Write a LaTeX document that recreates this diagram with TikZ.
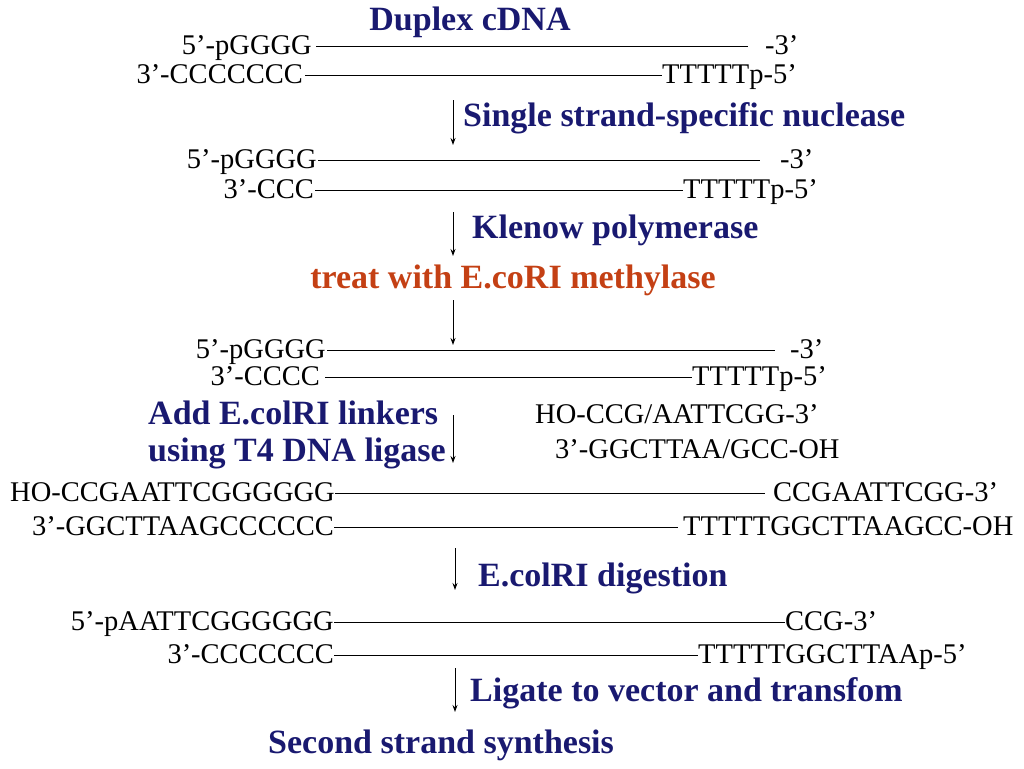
\documentclass[tikz,border=0pt]{standalone}
\usepackage{fontspec}
\usetikzlibrary{arrows.meta}
\setmainfont{Liberation Serif}
\newfontfamily\seqfont{Liberation Serif}
\definecolor{dblue}{RGB}{25,25,112}
\definecolor{ored}{RGB}{196,64,20}
\begin{document}
\begin{tikzpicture}[x=1pt,y=-1pt,
  seq/.style={font=\seqfont\fontsize{28.5}{32}\selectfont,inner sep=0pt},
  lbl/.style={font=\seqfont\fontsize{34}{38}\selectfont\bfseries,text=dblue,inner sep=0pt},
  L/.style={seq,anchor=base east,yshift=-8pt},
  R/.style={seq,anchor=base west,yshift=-8pt},
  strand/.style={line width=1pt},
  stp/.style={-{Stealth[length=7pt,width=5pt]},line width=1pt}]
\useasboundingbox (0,0) rectangle (1024,768);
\node[lbl] (t0) at (470,22) {Duplex cDNA};
% row1
\node[L] (a1) at (312,47) {5’-pGGGG};
\node[R] (b1) at (765,47) {-3’};
\coordinate (c1) at (748,47);
\coordinate (d1) at (316,47);
\draw[strand] (d1) -- (c1);
\node[L] (a2) at (303,75) {3’-CCCCCCC};
\node[R] (b2) at (662,75) {TTTTTp-5’};
\coordinate (d2) at (305,75);
\draw[strand] (d2) -- (b2.base west |- d2);
\coordinate (s1) at (453,100); \coordinate (e1) at (453,145);
\draw[stp] (s1) -- (e1);
\node[lbl,anchor=west] (t1) at (463,118) {Single strand-specific nuclease};
% row3
\node[L] (a3) at (317,160) {5’-pGGGG};
\node[R] (b3) at (780,160) {-3’};
\coordinate (c3) at (760,160); \coordinate (d3) at (318,160);
\draw[strand] (d3) -- (c3);
\node[L] (a4) at (314,190) {3’-CCC};
\node[R] (b4) at (683,190) {TTTTTp-5’};
\coordinate (d4) at (315,190);
\draw[strand] (d4) -- (b4.base west |- d4);
\coordinate (s2) at (453,212); \coordinate (e2) at (453,256);
\draw[stp] (s2) -- (e2);
\node[lbl,anchor=west] (t2) at (472,230) {Klenow polymerase};
\node[lbl,text=ored] (t3) at (513,280) {treat with E.coRI methylase};
\coordinate (s3) at (453,300); \coordinate (e3) at (453,345);
\draw[stp] (s3) -- (e3);
% row5
\node[L] (a5) at (326,350) {5’-pGGGG};
\node[R] (b5) at (790,350) {-3’};
\coordinate (c5) at (775,350); \coordinate (d5) at (327,350);
\draw[strand] (d5) -- (c5);
\node[L] (a6) at (320,377) {3’-CCCC};
\coordinate (c6) at (325,377);
\node[R] (b6) at (692,377) {TTTTTp-5’};
\draw[strand] (c6) -- (b6.base west |- c6);
\node[lbl,anchor=west] (t4) at (148,413) {Add E.colRI linkers};
\node[lbl,anchor=west] (t5) at (148,453) {using T4 DNA ligase};
\coordinate (s4) at (453,415); \coordinate (e4) at (453,463);
\draw[stp] (s4) -- (e4);
\node[R] (k1) at (535,415) {HO-CCG/AATTCGG-3’};
\node[R] (k2) at (555,450) {3’-GGCTTAA/GCC-OH};
% row7
\node[L] (a7) at (335,493) {HO-CCGAATTCGGGGGG};
\node[R] (b7) at (773,493) {CCGAATTCGG-3’};
\coordinate (c7) at (765,493); \coordinate (d7) at (335,493);
\draw[strand] (d7) -- (c7);
\node[L] (a8) at (334,527) {3’-GGCTTAAGCCCCCC};
\node[R] (b8) at (683,527) {TTTTTGGCTTAAGCC-OH};
\coordinate (c8) at (678,527); \coordinate (d8) at (334,527);
\draw[strand] (d8) -- (c8);
\coordinate (s5) at (455,548); \coordinate (e5) at (455,590);
\draw[stp] (s5) -- (e5);
\node[lbl,anchor=west] (t6) at (478,578) {E.colRI digestion};
% row9
\node[L] (a9) at (334,622) {5’-pAATTCGGGGGG};
\node[R] (b9) at (785,622) {CCG-3’};
\coordinate (d9) at (334,622);
\draw[strand] (d9) -- (b9.base west |- d9);
\node[L] (a10) at (334,655) {3’-CCCCCCC};
\node[R] (b10) at (698,655) {TTTTTGGCTTAAp-5’};
\coordinate (d10) at (334,655);
\draw[strand] (d10) -- (b10.base west |- d10);
\coordinate (s6) at (455,668); \coordinate (e6) at (455,712);
\draw[stp] (s6) -- (e6);
\node[lbl,anchor=west] (t7) at (470,693) {Ligate to vector and transfom};
\node[lbl,anchor=west] (t8) at (268,745) {Second strand synthesis};
\end{tikzpicture}
\end{document}
